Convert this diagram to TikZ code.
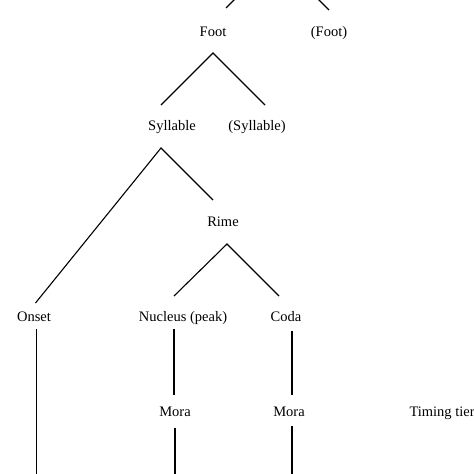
\documentclass[tikz,border=0pt]{standalone}
\usepackage{fontspec}
\setmainfont{Liberation Serif}

\begin{document}
\begin{tikzpicture}[x=1pt, y=-1pt, line width=1.1pt,
  label/.style={anchor=base, inner sep=0pt, font=\fontsize{14.5}{17}\selectfont}]

\useasboundingbox (0,0) rectangle (474,474);
\clip (0,0) rectangle (474,474);

\begin{scope}
  \node[label] (foot)    at (213,36)  {Foot};
  \node[label] (foot2)   at (329,36)  {(Foot)};
  \node[label] (syl)     at (172,130) {Syllable};
  \node[label] (syl2)    at (257,130) {(Syllable)};
  \node[label] (rime)    at (223,226) {Rime};
  \node[label] (onset)   at (34,321)  {Onset};
  \node[label] (nucleus) at (183,321) {Nucleus (peak)};
  \node[label] (coda)    at (286,321) {Coda};
  \node[label] (mora1)   at (175,416) {Mora};
  \node[label] (mora2)   at (289,416) {Mora};
  \node[label, anchor=base west] (tier) at (409,416) {Timing tier};

  \coordinate (up1) at (250,-16);
  \coordinate (up2) at (305,-14);
  \coordinate (down0) at (36.5,490);
  \coordinate (down1) at (175,490);
  \coordinate (down2) at (292,490);

  \draw ([shift={(13,-28)}]foot.base) -- (up1);
  \draw ([shift={(0,-26)}]foot2.base) -- (up2);

  \draw ([shift={(-11,-25)}]syl.base) -- ([shift={(0,17)}]foot.base) -- ([shift={(8,-25)}]syl2.base);
  \draw ([shift={(1.5,-18)}]onset.base) -- ([shift={(-11,18)}]syl.base) -- ([shift={(-10,-26)}]rime.base);
  \draw ([shift={(-9,-25)}]nucleus.base) -- ([shift={(4,18)}]rime.base) -- ([shift={(-7,-25)}]coda.base);

  \draw ([shift={(2.5,8)}]onset.base) -- (down0);
  \draw ([shift={(-9,8)}]nucleus.base) -- ([shift={(-1,-21)}]mora1.base);
  \draw ([shift={(6,10)}]coda.base) -- ([shift={(3,-21)}]mora2.base);
  \draw ([shift={(0,12)}]mora1.base) -- (down1);
  \draw ([shift={(3,10)}]mora2.base) -- (down2);
\end{scope}

\end{tikzpicture}
\end{document}
